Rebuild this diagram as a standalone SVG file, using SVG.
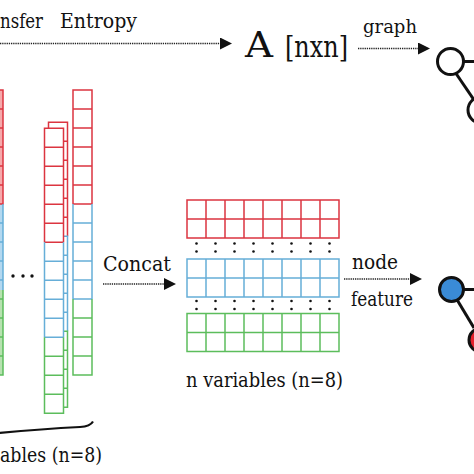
<svg xmlns="http://www.w3.org/2000/svg" width="474" height="474" viewBox="0 0 474 474">
<defs>
<style>
text{font-family:"DejaVu Serif","Liberation Serif",serif;fill:#111}
.dot{stroke:#222;stroke-width:1.7;stroke-dasharray:1.3 0.9;fill:none}
.r{stroke:#dc3540;stroke-width:1.5;fill:none}
.b{stroke:#66aed8;stroke-width:1.5;fill:none}
.g{stroke:#5cbd5c;stroke-width:1.5;fill:none}
.edge{stroke:#111;stroke-width:3;fill:none}
.nd{stroke:#111;stroke-width:3}
.pt{fill:#111}
</style>
<marker id="ah" markerUnits="userSpaceOnUse" markerWidth="12" markerHeight="12" refX="0" refY="6" orient="auto" viewBox="0 0 12 12">
<path d="M0 0L12 6L0 12z" fill="#111"/>
</marker>
</defs>
<rect width="474" height="474" fill="#fff"/>

<g id="connectors">
<line class="dot" x1="0" y1="43.5" x2="220" y2="43.5" marker-end="url(#ah)"/>
<line class="dot" x1="358" y1="48.5" x2="418" y2="48.5" marker-end="url(#ah)"/>
<line class="dot" x1="103" y1="284" x2="164" y2="284" marker-end="url(#ah)"/>
<line class="dot" x1="344" y1="279" x2="410" y2="279" marker-end="url(#ah)"/>
</g>

<g id="label-te">
<text x="0" y="28" font-size="21" textLength="43" lengthAdjust="spacingAndGlyphs">nsfer</text>
<text x="60" y="28" font-size="21" textLength="77" lengthAdjust="spacingAndGlyphs">Entropy</text>
</g>

<g id="matrix-a">
<text x="245" y="57" font-size="36" textLength="28" lengthAdjust="spacingAndGlyphs">A</text>
<text x="285" y="57" font-size="30" textLength="63" lengthAdjust="spacingAndGlyphs">[nxn]</text>
</g>
<g id="label-graph"><text x="363" y="33" font-size="19" textLength="54" lengthAdjust="spacingAndGlyphs">graph</text></g>

<g id="graph-top">
<line class="edge" x1="463" y1="61.5" x2="480" y2="61.5"/>
<line class="edge" x1="455" y1="72" x2="474" y2="100"/>
<circle class="nd" cx="450.5" cy="61.5" r="13" fill="#fff"/>
<circle class="nd" cx="481" cy="110" r="13" fill="#fff"/>
</g>

<g id="graph-bottom">
<line class="edge" x1="462" y1="289.5" x2="480" y2="289.5"/>
<line class="edge" x1="456" y1="298" x2="474" y2="328"/>
<circle class="nd" cx="451.5" cy="289.5" r="12" fill="#3a8bd6"/>
<circle class="nd" cx="481" cy="340" r="12" fill="#e3202b"/>
</g>

<g id="col-edge">
<rect x="-16" y="90" width="19" height="114" fill="#f6a9ab"/>
<rect x="-16" y="204" width="19" height="86" fill="#b3d8f0"/>
<rect x="-16" y="290" width="19" height="85" fill="#b7e2b0"/>
<path class="r" d="M-16 90h19v114h-19M-16 109h19M-16 128h19M-16 147h19M-16 166h19M-16 185h19"/>
<path class="b" d="M3 204v86M-16 223h19M-16 242h19M-16 261h19M-16 280h19"/>
<path class="g" d="M3 290v85h-19M-16 299h19M-16 318h19M-16 337h19M-16 356h19"/>
</g>

<g id="ellipsis">
<circle class="pt" cx="13" cy="276" r="1.7"/>
<circle class="pt" cx="23" cy="276" r="1.7"/>
<circle class="pt" cx="32" cy="276" r="1.7"/>
</g>

<g id="col-back">
<rect x="48.5" y="122.3" width="19" height="285" fill="#fff"/>
<path class="r" d="M48.5 236.3V122.3h19v114M48.5 141.3h19M48.5 160.3h19M48.5 179.3h19M48.5 198.3h19M48.5 217.3h19"/>
<path class="b" d="M48.5 236.3h19v95M48.5 255.3h19M48.5 274.3h19M48.5 293.3h19M48.5 312.3h19"/>
<path class="g" d="M48.5 331.3h19v76h-19M48.5 350.3h19M48.5 369.3h19M48.5 388.3h19"/>
</g>

<g id="col-front">
<rect x="44.5" y="128.3" width="19" height="285" fill="#fff"/>
<path class="r" d="M44.5 242.3V128.3h19v114M44.5 147.3h19M44.5 166.3h19M44.5 185.3h19M44.5 204.3h19M44.5 223.3h19M44.5 242.3h19"/>
<path class="b" d="M44.5 242.3v95M63.5 242.3v95M44.5 261.3h19M44.5 280.3h19M44.5 299.3h19M44.5 318.3h19M44.5 337.3h19"/>
<path class="g" d="M44.5 337.3v76h19v-76M44.5 356.3h19M44.5 375.3h19M44.5 394.3h19"/>
</g>

<g id="col-right">
<path class="r" d="M73 204V90h19v114M73 109h19M73 128h19M73 147h19M73 166h19M73 185h19M73 204h19"/>
<path class="b" d="M73 204v95M92 204v95M73 223h19M73 242h19M73 261h19M73 280h19M73 299h19"/>
<path class="g" d="M73 299v76h19v-76M73 318h19M73 337h19M73 356h19"/>
</g>

<g id="brace"><path d="M-2 433C30 430 60 428 80 427C87 426.6 91 425 93 421.5" fill="none" stroke="#111" stroke-width="2.2"/></g>
<g id="label-left"><text x="0" y="462" font-size="21" textLength="102" lengthAdjust="spacingAndGlyphs">ables (n=8)</text></g>

<g id="label-concat"><text x="103" y="270.5" font-size="21" textLength="68" lengthAdjust="spacingAndGlyphs">Concat</text></g>

<g id="grid-red">
<path class="r" d="M187 200h152v38h-152zM187 219h152M206 200v38M225 200v38M244 200v38M263 200v38M282 200v38M301 200v38M320 200v38"/>
</g>
<g id="grid-blue">
<path class="b" d="M187 259h152v38h-152zM187 278h152M206 259v38M225 259v38M244 259v38M263 259v38M282 259v38M301 259v38M320 259v38"/>
</g>
<g id="grid-green">
<path class="g" d="M187 313.5h152v38h-152zM187 332.5h152M206 313.5v38M225 313.5v38M244 313.5v38M263 313.5v38M282 313.5v38M301 313.5v38M320 313.5v38"/>
</g>
<g id="grid-dots" fill="#111">
<g id="dots-row">
<circle cx="196.5" cy="243.5" r="1.3"/><circle cx="215.5" cy="243.5" r="1.3"/><circle cx="234.5" cy="243.5" r="1.3"/><circle cx="253.5" cy="243.5" r="1.3"/><circle cx="272.5" cy="243.5" r="1.3"/><circle cx="291.5" cy="243.5" r="1.3"/><circle cx="310.5" cy="243.5" r="1.3"/><circle cx="329.5" cy="243.5" r="1.3"/>
<circle cx="196.5" cy="251.5" r="1.3"/><circle cx="215.5" cy="251.5" r="1.3"/><circle cx="234.5" cy="251.5" r="1.3"/><circle cx="253.5" cy="251.5" r="1.3"/><circle cx="272.5" cy="251.5" r="1.3"/><circle cx="291.5" cy="251.5" r="1.3"/><circle cx="310.5" cy="251.5" r="1.3"/><circle cx="329.5" cy="251.5" r="1.3"/>
</g>
<use href="#dots-row" y="57.5"/>
</g>
<g id="label-mid"><text x="186" y="387" font-size="20" textLength="157" lengthAdjust="spacingAndGlyphs">n variables (n=8)</text></g>

<g id="label-node">
<text x="352" y="268.5" font-size="21" textLength="46" lengthAdjust="spacingAndGlyphs">node</text>
<text x="351" y="306" font-size="21" textLength="62" lengthAdjust="spacingAndGlyphs">feature</text>
</g>
</svg>
